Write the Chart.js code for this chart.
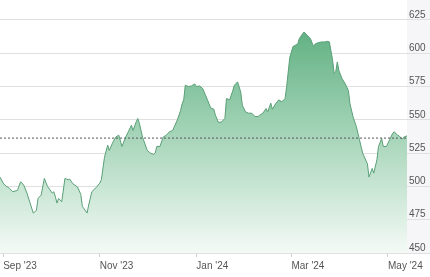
<!DOCTYPE html>
<html lang="en">
<head>
<meta charset="UTF-8">
<title>Price chart</title>
<script src="https://cdn.jsdelivr.net/npm/chart.js"></script>
<style>
  html, body { margin: 0; padding: 0; background: #fff; }
  #wrap { width: 430px; height: 277px; position: relative; }
</style>
</head>
<body>
<div id="wrap"><canvas id="priceChart"></canvas></div>
<script>
// days counted from 1 Sep 2023
var days = [
  -2, 0, 1, 4, 6, 9, 11, 13, 15, 17,
  19, 21, 22, 24, 26, 28, 31, 32, 33, 34,
  35, 37, 39, 41, 42, 44, 47, 49, 50, 53,
  54, 56, 59, 61, 62, 64, 66, 67, 69, 71,
  73, 75, 77, 79, 81, 82, 84, 85, 86, 88,
  91, 93, 95, 96, 97, 99, 101, 103, 105, 107,
  110, 112, 113, 114, 115, 117, 119, 121, 122, 124,
  126, 129, 131, 133, 134, 136, 138, 140, 141, 143,
  145, 146, 148, 150, 151, 153, 155, 157, 159, 161,
  162, 164, 166, 167, 169, 170, 172, 174, 176, 178,
  179, 181, 183, 186, 187, 189, 190, 192, 194, 196,
  197, 199, 201, 203, 205, 206, 208, 209, 210, 211,
  212, 214, 216, 218, 219, 221, 223, 225, 227, 230,
  231, 233, 234, 236, 237, 239, 240, 242, 244, 246,
  247, 249, 250, 252, 253, 255
];
var prices = [
  507, 502.5, 501, 498.5, 496, 497, 503.5, 501, 495, 487.5,
  480, 482, 491, 493.5, 506, 500, 495, 496, 492, 487.5,
  491, 488.5, 506, 505, 505.5, 502, 499.5, 494, 485, 480,
  486, 496, 499.5, 502.5, 505, 522, 531, 527, 532.5, 537,
  538.5, 530, 536, 541, 546, 542, 548.5, 551, 547.5, 537,
  527, 525, 524, 525, 530, 530, 537, 538.5, 541, 542,
  550, 557, 562, 565, 576, 575, 575.5, 577, 575, 575.5,
  573.5, 565, 559, 558, 553.5, 548, 548.5, 551, 566, 565,
  572, 576, 578.5, 571, 561, 556, 555, 555, 552.5, 552.5,
  553.5, 555, 558.5, 556, 562.5, 558, 562, 565, 563.5, 566,
  575, 597, 605, 607, 611, 614.5, 616, 613.5, 611, 605,
  607, 608, 608.5, 608.5, 609, 608.5, 595, 585, 586, 593.5,
  587, 581, 577, 572, 562, 552, 545, 535, 525, 517,
  507, 513.5, 510, 520, 530, 536, 530, 530, 535, 540,
  541, 538.5, 538, 535.5, 537, 538
];
var refPrice = 536.3;

var monthTicks = [0, 61, 122, 182, 243];
var monthLabels = ["Sep '23", "Nov '23", "Jan '24", "Mar '24", "May '24"];
var priceTicks = [450, 475, 500, 525, 550, 575, 600, 625];

var labelFont = { family: "'Liberation Sans Narrow', 'Liberation Sans', Arial, sans-serif", size: 10 };

// light band behind the price labels on the right
var bandPlugin = {
  id: 'band',
  beforeDraw: function (chart) {
    var c = chart.ctx, a = chart.chartArea;
    c.save();
    c.fillStyle = '#f6f6f9';
    c.fillRect(a.right, 0, chart.width - a.right, a.bottom);
    c.restore();
  }
};

function areaFill(context) {
  var chart = context.chart, a = chart.chartArea;
  if (!a) return null;
  var g = chart.ctx.createLinearGradient(0, a.top, 0, a.bottom);
  g.addColorStop(0, 'rgb(78,166,116)');
  g.addColorStop(0.5, 'rgb(160,210,180)');
  g.addColorStop(1, 'rgb(244,250,246)');
  return g;
}

var ctx = document.getElementById('priceChart').getContext('2d');
var chart = new Chart(ctx, {
  type: 'line',
  data: {
    datasets: [{
      label: 'ref',
      data: [{ x: days[0], y: refPrice }, { x: days[days.length - 1], y: refPrice }],
      borderColor: '#555',
      borderWidth: 1,
      borderDash: [2, 2],
      pointRadius: 0,
      fill: false
    }, {
      label: 'price',
      data: days.map(function (d, i) { return { x: d, y: prices[i] }; }),
      borderColor: '#5a9f77',
      borderWidth: 1,
      backgroundColor: areaFill,
      pointRadius: 0,
      tension: 0,
      fill: 'start'
    }]
  },
  plugins: [bandPlugin],
  options: {
    responsive: true,
    maintainAspectRatio: false,
    animation: false,
    layout: { padding: 0 },
    plugins: {
      legend: { display: false },
      tooltip: { enabled: false }
    },
    scales: {
      x: {
        type: 'linear',
        min: -2,
        max: 255,
        afterBuildTicks: function (s) {
          s.ticks = monthTicks.map(function (v) { return { value: v }; });
        },
        afterFit: function (s) { s.height = 24; },
        ticks: {
          callback: function (v) { return monthLabels[monthTicks.indexOf(v)]; },
          align: 'start',
          padding: 3,
          color: '#555',
          font: labelFont,
          maxRotation: 0,
          autoSkip: false
        },
        grid: { drawOnChartArea: false, tickLength: 4, color: '#cfcfcf' },
        border: { display: false }
      },
      y: {
        position: 'right',
        min: 450,
        max: 640,
        afterBuildTicks: function (s) {
          s.ticks = priceTicks.map(function (v) { return { value: v }; });
        },
        afterFit: function (s) { s.width = 23; },
        ticks: {
          padding: -21,
          labelOffset: -5,
          color: '#555',
          font: labelFont
        },
        grid: { color: '#e0e0e0', tickLength: 23 },
        border: { display: false }
      }
    }
  }
});
</script>
</body>
</html>
